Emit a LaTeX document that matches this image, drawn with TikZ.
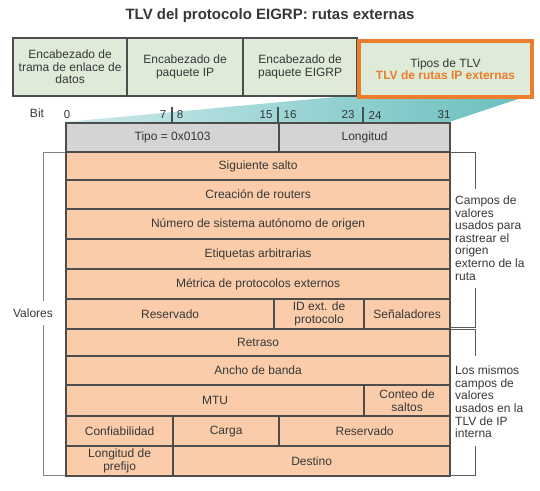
\documentclass[tikz,border=0pt]{standalone}
\usepackage{fontspec}
\setmainfont{Liberation Sans}
\definecolor{hdrgreen}{RGB}{221,235,216}
\definecolor{bordergray}{RGB}{77,77,77}
\definecolor{tlvorange}{RGB}{236,125,45}
\definecolor{peach}{RGB}{250,204,170}
\definecolor{lgray}{RGB}{212,212,212}
\definecolor{tealA}{RGB}{205,234,234}
\definecolor{tealB}{RGB}{105,190,190}
\definecolor{txtgray}{RGB}{55,55,55}
\definecolor{brk}{RGB}{90,90,90}
\begin{document}
\begin{tikzpicture}[x=1pt,y=-1pt,
  txt/.style={font=\fontsize{12}{12.5}\selectfont, text=txtgray, align=center, inner sep=0pt},
  cell/.style={txt, draw=bordergray, line width=2.2pt, fill=peach, anchor=north west},
  hcell/.style={cell, fill=lgray},
  gcell/.style={txt, draw=bordergray, line width=2.2pt, fill=hdrgreen, anchor=north west, minimum height=58},
  bitnum/.style={font=\fontsize{11.5}{12}\selectfont, text=txtgray, inner sep=0pt},
  tick/.style={draw=bordergray, line width=2pt},
  bracket/.style={draw=brk, line width=0.9pt},
  side/.style={font=\fontsize{12}{12.6}\selectfont, text=txtgray, align=left, anchor=west, inner sep=0pt}
]
\useasboundingbox (0,0) rectangle (540,490);

% title
\node[font=\fontsize{15}{18}\selectfont\bfseries, text=txtgray] (title) at (270,16) {TLV del protocolo EIGRP: rutas externas};

% teal expansion
\shade[left color=tealA, right color=tealB] (357,95) -- (530,95) -- (449,122) -- (65,122) -- cycle;

% header boxes
\node[gcell, minimum width=114] (h1) at (12,37) {Encabezado de\\trama de enlace de\\datos};
\node[gcell, minimum width=116] (h2) at (126,37) {Encabezado de\\paquete IP};
\node[gcell, minimum width=114] (h3) at (242,37) {Encabezado de\\paquete EIGRP};
\node[gcell, draw=tlvorange, line width=4pt, minimum width=173, minimum height=56] (h4) at (357,39) {Tipos de TLV\\\textcolor{tlvorange}{\bfseries TLV de rutas IP externas}};

% bit labels
\node[txt] (bit) at (37,113) {Bit};
\node[bitnum] (b0) at (67,115) {0};
\node[bitnum] (b7) at (163,115) {7};
\node[bitnum] (b8) at (180,115) {8};
\node[bitnum] (b15) at (266,115) {15};
\node[bitnum] (b16) at (290,115) {16};
\node[bitnum] (b23) at (348,115) {23};
\node[bitnum] (b24) at (375,115) {24};
\node[bitnum] (b31) at (444,115) {31};
\coordinate (t1a) at (172,107); \coordinate (t1b) at (172,122);
\coordinate (t2a) at (278,107); \coordinate (t2b) at (278,122);
\coordinate (t3a) at (363,107); \coordinate (t3b) at (363,122);
\draw[tick] (t1a) -- (t1b);
\draw[tick] (t2a) -- (t2b);
\draw[tick] (t3a) -- (t3b);

% header row
\node[hcell, minimum width=213, minimum height=29] (tipo) at (65,122) {Tipo = 0x0103};
\node[hcell, minimum width=171, minimum height=29] (long) at (278,122) {Longitud};

% rows
\node[cell, minimum width=384, minimum height=28] (r1) at (65,151) {Siguiente salto};
\node[cell, minimum width=384, minimum height=29] (r2) at (65,179) {Creación de routers};
\node[cell, minimum width=384, minimum height=30] (r3) at (65,208) {Número de sistema autónomo de origen};
\node[cell, minimum width=384, minimum height=30] (r4) at (65,238) {Etiquetas arbitrarias};
\node[cell, minimum width=384, minimum height=30] (r5) at (65,268) {Métrica de protocolos externos};
\node[cell, minimum width=208, minimum height=30] (r6a) at (65,298) {Reservado};
\node[cell, minimum width=90, minimum height=30] (r6b) at (273,298) {ID ext. de\\protocolo};
\node[cell, minimum width=86, minimum height=30] (r6c) at (363,298) {Señaladores};
\node[cell, minimum width=384, minimum height=27] (r7) at (65,328) {Retraso};
\node[cell, minimum width=384, minimum height=29] (r8) at (65,355) {Ancho de banda};
\node[cell, minimum width=298, minimum height=31] (r9a) at (65,384) {MTU};
\node[cell, minimum width=86, minimum height=31] (r9b) at (363,384) {Conteo de\\saltos};
\node[cell, minimum width=107, minimum height=30] (r10a) at (65,415) {Confiabilidad};
\node[cell, minimum width=106, minimum height=30] (r10b) at (172,415) {Carga};
\node[cell, minimum width=171, minimum height=30] (r10c) at (278,415) {Reservado};
\node[cell, minimum width=107, minimum height=30] (r11a) at (65,445) {Longitud de\\prefijo};
\node[cell, minimum width=277, minimum height=30] (r11b) at (172,445) {Destino};

% left bracket
\node[txt] (valores) at (33,313) {Valores};
\coordinate (lb1) at (65,152); \coordinate (lb2) at (43,152); \coordinate (lb3) at (43,301);
\coordinate (lb4) at (43,325); \coordinate (lb5) at (43,475); \coordinate (lb6) at (65,475);
\draw[bracket, draw=gray] (lb1) -- (lb2) -- (lb3);
\draw[bracket, draw=gray] (lb4) -- (lb5) -- (lb6);

% right bracket 1
\node[side] (ext) at (455,238) {Campos de\\valores\\usados para\\rastrear el\\origen\\externo de la\\ruta};
\coordinate (ra1) at (450,152); \coordinate (ra2) at (475,152); \coordinate (ra3) at (475,189);
\coordinate (ra4) at (475,288); \coordinate (ra5) at (475,327); \coordinate (ra6) at (450,327);
\draw[bracket] (ra1) -- (ra2) -- (ra3);
\draw[bracket] (ra4) -- (ra5) -- (ra6);

% right bracket 2
\node[side] (same) at (455,402) {Los mismos\\campos de\\valores\\usados en la\\TLV de IP\\interna};
\coordinate (rb1) at (450,329); \coordinate (rb2) at (475,329); \coordinate (rb3) at (475,356);
\coordinate (rb4) at (475,446); \coordinate (rb5) at (475,475); \coordinate (rb6) at (450,475);
\draw[bracket] (rb1) -- (rb2) -- (rb3);
\draw[bracket] (rb4) -- (rb5) -- (rb6);
\end{tikzpicture}
\end{document}
